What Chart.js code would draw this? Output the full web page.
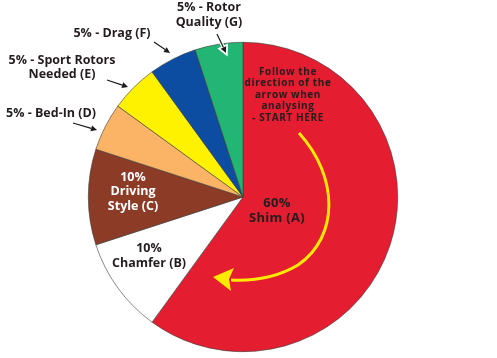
<!DOCTYPE html>
<html><head><meta charset="utf-8">
<script src="https://cdn.jsdelivr.net/npm/chart.js@4/dist/chart.umd.min.js"></script>
<style>html,body{margin:0;padding:0;background:#fff}#c{display:block}</style>
</head><body>
<canvas id="c" width="497" height="358"></canvas>
<script>
const categories = ["Shim (A)", "Chamfer (B)", "Driving Style (C)", "Bed-In (D)", "Sport Rotors Needed (E)", "Drag (F)", "Rotor Quality (G)"];
const values = [60, 10, 10, 5, 5, 5, 5];
const colors = ["#E41D31", "#FFFFFF", "#8B3B26", "#FBB466", "#FFF200", "#0C4DA2", "#22B573"];

const F = "'Open Sans', 'DejaVu Sans', sans-serif";

const labelPlugin = {
  id: 'labels',
  afterDatasetsDraw(chart) {
    const ctx = chart.ctx;
    const arc = chart.getDatasetMeta(0).data[0];
    const cx = arc.x, cy = arc.y;
    ctx.save();
    ctx.textAlign = 'center';
    ctx.textBaseline = 'middle';
    function lines(arr, x, y, lh, font, color, ls) {
      ctx.font = font; ctx.fillStyle = color;
      ctx.letterSpacing = ls || '0px';
      arr.forEach((t, i) => ctx.fillText(t, cx + x, cy + y + i * lh));
      ctx.letterSpacing = '0px';
    }
    const dark = '#241c1e';
    // inner labels
    lines(["Follow the", "direction of the", "arrow when", "analysing", "- START HERE"], 45, -125, 11.5, "bold 10px " + F, dark, '0.6px');
    lines([values[0] + "%", "Shim (A)"], 34, 6, 15, "bold 13px " + F, dark, '0.3px');
    lines([values[2] + "%", "Driving", "Style (C)"], -110, -20, 14.5, "bold 12.5px " + F, '#ffffff');
    lines([values[1] + "%", "Chamfer (B)"], -94, 51, 15, "bold 12.5px " + F, dark);
    // outer labels
    const ol = "bold 12.5px " + F;
    lines([values[6] + "% - Rotor", "Quality (G)"], -34, -190, 15, ol, dark);
    lines([values[5] + "% - Drag (F)"], -131, -164, 15, ol, dark);
    lines([values[4] + "% - Sport Rotors", "Needed (E)"], -181, -137, 14.5, ol, dark);
    lines([values[3] + "% - Bed-In (D)"], -192, -84, 15, ol, dark);

    // leader arrows
    function arrow(x1, y1, x2, y2, halo) {
      x1 += cx; y1 += cy; x2 += cx; y2 += cy;
      const a = Math.atan2(y2 - y1, x2 - x1);
      const hl = 6, hw = 3;
      const bx = x2 - hl * Math.cos(a), by = y2 - hl * Math.sin(a);
      const draw = (col, w) => {
        ctx.strokeStyle = col; ctx.fillStyle = col; ctx.lineWidth = w;
        ctx.beginPath(); ctx.moveTo(x1, y1); ctx.lineTo(bx, by); ctx.stroke();
        ctx.beginPath();
        ctx.moveTo(x2, y2);
        ctx.lineTo(bx + hw * Math.sin(a), by - hw * Math.cos(a));
        ctx.lineTo(bx - hw * Math.sin(a), by + hw * Math.cos(a));
        ctx.closePath(); ctx.fill();
        if (w > 2) ctx.stroke();
      };
      if (halo) draw('#ffffff', 3.5);
      draw('#1a1a1a', 1.2);
    }
    arrow(-26, -163, -17, -144, true);
    arrow(-89, -155, -73, -144, false);
    arrow(-136, -117, -115, -110, false);
    arrow(-170, -74, -146, -67, false);

    // yellow direction arrow
    ctx.strokeStyle = '#FFE900';
    ctx.fillStyle = '#FFE900';
    ctx.lineWidth = 3;
    ctx.beginPath();
    ctx.moveTo(cx + 56, cy - 64);
    ctx.bezierCurveTo(cx + 96, cy - 20, cx + 96, cy + 40, cx + 55, cy + 68);
    ctx.bezierCurveTo(cx + 35, cy + 80, cx + 10, cy + 84, cx - 12, cy + 83);
    ctx.stroke();
    ctx.beginPath();
    ctx.moveTo(cx - 30, cy + 80);
    ctx.lineTo(cx - 9, cy + 71);
    ctx.lineTo(cx - 14, cy + 82);
    ctx.lineTo(cx - 12, cy + 94);
    ctx.closePath();
    ctx.fill();
    ctx.restore();
  }
};

new Chart(document.getElementById('c'), {
  type: 'pie',
  data: {
    labels: categories,
    datasets: [{
      data: values,
      backgroundColor: colors,
      borderColor: '#3a3a3a',
      borderWidth: 0.6,
      borderAlign: 'center'
    }]
  },
  options: {
    responsive: false,
    animation: false,
    events: [],
    layout: { padding: { top: 42, bottom: 6, left: 88, right: 99 } },
    plugins: { legend: { display: false }, tooltip: { enabled: false } }
  },
  plugins: [labelPlugin]
});
</script>
</body></html>
